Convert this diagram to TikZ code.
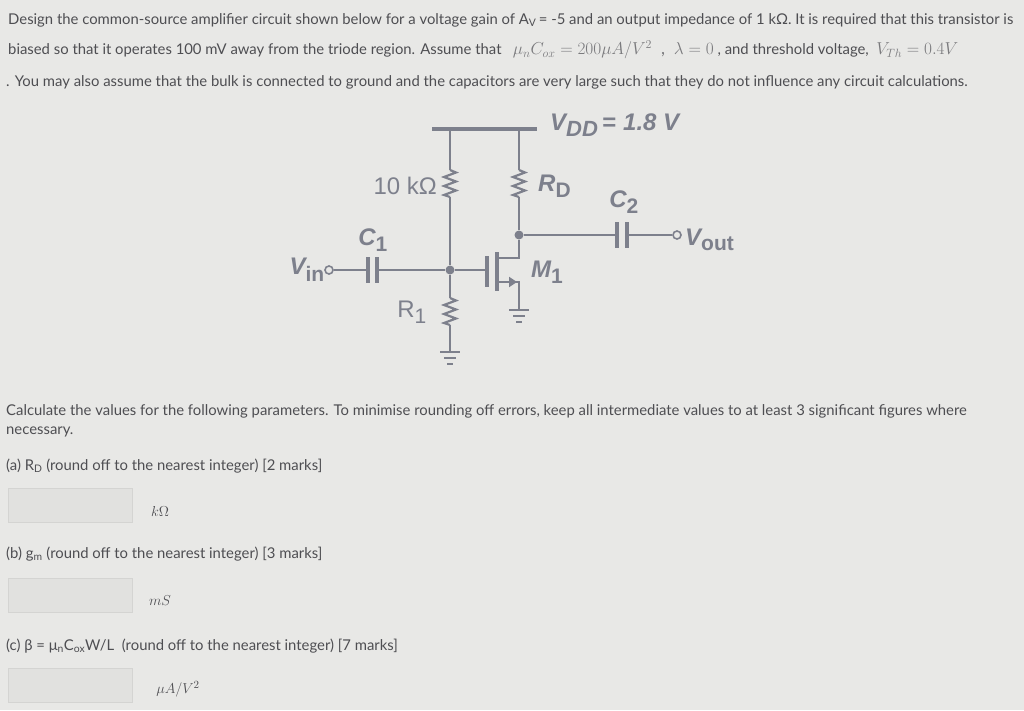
\documentclass[tikz,border=0pt]{standalone}
\usepackage{fontspec}
\setmainfont{Lato}
\newfontfamily\cfont{Liberation Sans}
\usetikzlibrary{arrows.meta}
\definecolor{bg}{RGB}{232,232,230}
\definecolor{txt}{RGB}{78,78,82}
\definecolor{wire}{RGB}{125,128,140}
\definecolor{boxc}{RGB}{212,212,210}
\tikzset{
 w/.style={draw=wire,line width=2.8pt},
 plate/.style={draw=wire,line width=3.4pt},
 t/.style={anchor=west,inner sep=0,text=txt,font=\fontsize{14.85}{16}\selectfont},
 cl/.style={inner sep=0,text=wire,font=\cfont\fontsize{24}{25}\selectfont\bfseries\itshape},
 cln/.style={inner sep=0,text=wire,font=\cfont\fontsize{24}{25}\selectfont},
 term/.style={circle,draw=wire,line width=1.6pt,fill=bg,inner sep=0,minimum size=8pt},
 dot/.style={circle,fill=wire,inner sep=0,minimum size=9pt},
 ans/.style={draw=boxc,fill=bg!97!black,line width=1pt},
 unit/.style={inner sep=0,text=txt,font=\fontsize{15}{16}\selectfont}
}
\newcommand{\sub}[1]{\textsubscript{\fontsize{21}{21}\selectfont\upshape #1}}
\newcommand{\resv}[3]{% x, ytop, ybottom
 \draw[w,line width=2.2pt] (#1,#2) -- (#1+6,#2+2.5) -- (#1-6,#2+7) -- (#1+6,#2+11.5) -- (#1-6,#2+16) -- (#1+6,#2+20.5) -- (#1-6,#2+25) -- (#1,#3);}
\newcommand{\gnd}[2]{%
 \draw[w] (#1-10,#2) -- (#1+10,#2); \draw[w] (#1-6,#2+6) -- (#1+6,#2+6); \draw[w] (#1-3,#2+12) -- (#1+3,#2+12);}
\begin{document}
\begin{tikzpicture}[x=1pt,y=-1pt]
\fill[bg] (0,0) rectangle (1024,710);
\useasboundingbox (0,0) rectangle (1024,710);
% question text
\node[t] (l1) at (8,20) {Design the common-source amplifier circuit shown below for a voltage gain of A\textsubscript{V}\,= -5 and an output impedance of 1 kΩ. It is required that this transistor is};
\node[t] (l2) at (8,50) {biased so that it operates 100 mV away from the triode region. Assume that \ \ {\color{txt!75}\fontsize{17.5}{17}\selectfont$\mu_n C_{ox} = 200\mu A/V^2$ \ , \ $\lambda = 0$}\ , and threshold voltage, \ {\color{txt!75}\fontsize{17.5}{17}\selectfont$V_{Th} = 0.4V$}};
\node[t] (l3) at (6,82) {. You may also assume that the bulk is connected to ground and the capacitors are very large such that they do not influence any circuit calculations.};
% circuit
\coordinate (vl) at (450,129); \coordinate (vr) at (519,129);
\draw[w,line width=3.4pt] (432,129) -- (537,129);
\node[cl,anchor=west] (vdd) at (550,125) {V\textsubscript{\fontsize{22}{22}\selectfont DD}\,{\upshape=} 1.8 V};
\draw[w] (vl) -- (450,170); \resv{450}{170}{197}
\draw[w] (vr) -- (519,170); \resv{519}{170}{197}
\node[cln,anchor=east] (r10) at (437,186) {10 kΩ};
\node[cl,anchor=west] (rd) at (538,186) {R\sub{D}};
\node[dot] (g) at (450,270) {};
\node[dot] (d) at (519,235) {};
\draw[w] (450,197) -- (g);
\draw[w] (519,197) -- (d);
% input
\node[term] (vin) at (329,270) {};
\node[cl,anchor=east] (vinl) at (325,270) {V\sub{in}};
\draw[w] (vin) -- (368,270); \draw[plate] (368,257) -- (368,283); \draw[plate] (377,257) -- (377,283);
\draw[w] (377,270) -- (g);
\node[cl] (c1) at (373,240) {C\sub{1}};
% mosfet
\draw[w] (g) -- (487,270);
\draw[plate] (487,256) -- (487,287);
\draw[plate] (497,252) -- (497,291);
\draw[w] (497,258) -- (519,258) -- (d);
\draw[w,-{Triangle[length=8pt,width=10pt]}] (497,282) -- (517,282);
\draw[w] (516,282) -- (519,282) -- (519,310);
\gnd{519}{310}
\node[cl,anchor=west] (m1) at (531,272) {M\sub{1}};
% R1
\draw[w] (g) -- (450,298); \resv{450}{298}{325}
\draw[w] (450,325) -- (450,352); \gnd{450}{352}
\node[cln] (r1) at (412,312) {R\textsubscript{\fontsize{21}{21}\selectfont 1}};
% output
\draw[w] (d) -- (617,235); \draw[plate] (617,222) -- (617,248); \draw[plate] (627,222) -- (627,248);
\node[term] (vout) at (677,235) {};
\draw[w] (627,235) -- (vout);
\node[cl] (c2) at (624,202) {C\sub{2}};
\node[cl,anchor=west] (voutl) at (685,240) {V\sub{out}};
% questions
\node[t] (q0) at (6,411) {Calculate the values for the following parameters. To minimise rounding off errors, keep all intermediate values to at least 3 significant figures where};
\node[t] (q0b) at (6,432) {necessary.};
\node[t] (qa) at (6,466) {(a) R\textsubscript{D} (round off to the nearest integer) [2 marks]};
\draw[ans] (8,488) rectangle (132,522);
\node[unit] (ua) at (160,511) {$k\Omega$};
\node[t] (qb) at (6,554) {(b) g\textsubscript{m} (round off to the nearest integer) [3 marks]};
\draw[ans] (8,578) rectangle (132,612);
\node[unit] (ub) at (160,601) {$mS$};
\node[t] (qc) at (6,646) {(c) β = μ\textsubscript{n}C\textsubscript{ox}W/L \ (round off to the nearest integer) [7 marks]};
\draw[ans] (8,668) rectangle (132,702);
\node[unit] (uc) at (178,689) {$\mu A/V^2$};
\end{tikzpicture}
\end{document}
